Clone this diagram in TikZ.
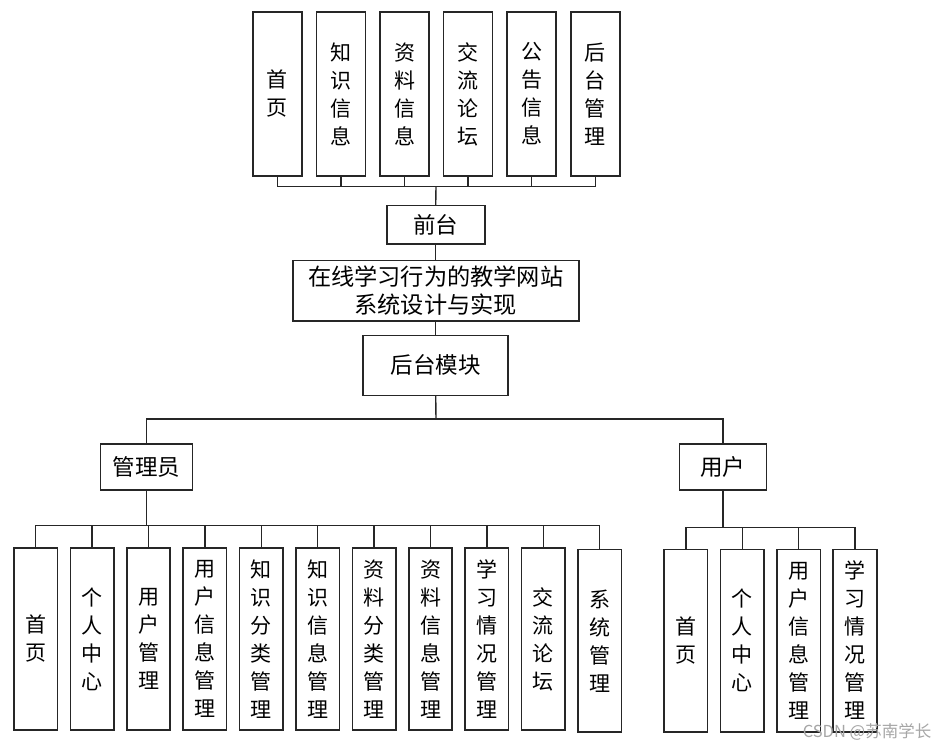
\documentclass[tikz,border=0pt]{standalone}
\usepackage{fontspec}
\newfontfamily\cjk{Noto Sans CJK SC}
\usetikzlibrary{positioning}

\begin{document}
\begin{tikzpicture}[
  x=1pt, y=1pt,
  box/.style={draw=black!85, line width=1.6pt, fill=white, inner sep=2pt, outer sep=0pt, align=center, font=\cjk\fontsize{21}{28}\selectfont},
  flatbox/.style={box, font=\cjk\fontsize{22.5}{28}\selectfont},
  topbox/.style={box, minimum width=49pt, minimum height=164pt},
  leafbox/.style={box, minimum width=43.5pt, minimum height=182.4pt},
  line/.style={draw=black!85, line width=1.4pt}
]
\useasboundingbox (0,0) rectangle (952,748);

% front end
\node[topbox] (t1) at (277.3,654) {首\\页};
\node[topbox, right=14.6pt of t1] (t2) {知\\识\\信\\息};
\node[topbox, right=14.6pt of t2] (t3) {资\\料\\信\\息};
\node[topbox, right=14.6pt of t3] (t4) {交\\流\\论\\坛};
\node[topbox, right=14.6pt of t4] (t5) {公\\告\\信\\息};
\node[topbox, right=14.6pt of t5] (t6) {后\\台\\管\\理};
\coordinate (tbus) at (436,561.3);

\node[flatbox, minimum width=98pt, minimum height=38.6pt] (front) at (435.7,523) {前台};
\node[flatbox, font=\cjk\fontsize{23.2}{28}\selectfont, minimum width=286pt, minimum height=60pt, below=16.4pt of front] (title) {在线学习行为的教学网站\\系统设计与实现};
\node[flatbox, minimum width=145pt, minimum height=60pt, below=14.7pt of title] (back) {后台模块};
\coordinate (mbus) at (436,329);

% roles
\node[flatbox, minimum width=92pt, minimum height=46pt] (admin) at (146.5,281) {管理员};
\node[flatbox, minimum width=87pt, minimum height=46pt] (user) at (722.8,281) {用户};
\coordinate (abus) at (146.5,222.7);
\coordinate (ubus) at (722.8,220.7);

% admin functions
\node[leafbox] (a1) at (35.7,109) {首\\页};
\node[leafbox, right=12.9pt of a1] (a2) {个\\人\\中\\心};
\node[leafbox, right=12.9pt of a2] (a3) {用\\户\\管\\理};
\node[leafbox, right=12.9pt of a3] (a4) {用\\户\\信\\息\\管\\理};
\node[leafbox, right=12.9pt of a4] (a5) {知\\识\\分\\类\\管\\理};
\node[leafbox, right=12.9pt of a5] (a6) {知\\识\\信\\息\\管\\理};
\node[leafbox, right=12.9pt of a6] (a7) {资\\料\\分\\类\\管\\理};
\node[leafbox, right=12.9pt of a7] (a8) {资\\料\\信\\息\\管\\理};
\node[leafbox, right=12.9pt of a8] (a9) {学\\习\\情\\况\\管\\理};
\node[leafbox, right=12.9pt of a9] (a10) {交\\流\\论\\坛};
\node[leafbox, right=12.9pt of a10, yshift=-1.8pt] (a11) {系\\统\\管\\理};

% user functions
\node[leafbox] (u1) at (685.8,107.5) {首\\页};
\node[leafbox, right=12.9pt of u1] (u2) {个\\人\\中\\心};
\node[leafbox, right=12.9pt of u2] (u3) {用\\户\\信\\息\\管\\理};
\node[leafbox, right=12.9pt of u3] (u4) {学\\习\\情\\况\\管\\理};

% connectors
\draw[line] (t1.south) |- (tbus) (t2.south) |- (tbus) (t3.south) |- (tbus)
  (t4.south) |- (tbus) (t5.south) |- (tbus) (t6.south) |- (tbus);
\draw[line] (tbus) -- (front.north);
\draw[line] (front.south) -- (title.north);
\draw[line] (title.south) -- (back.north);
\draw[line] (back.south) -- (mbus);
\draw[line] (admin.north) |- (mbus) (user.north) |- (mbus);
\draw[line] (admin.south) -- (abus);
\draw[line] (a1.north) |- (abus) (a2.north) |- (abus) (a3.north) |- (abus)
  (a4.north) |- (abus) (a5.north) |- (abus) (a6.north) |- (abus)
  (a7.north) |- (abus) (a8.north) |- (abus) (a9.north) |- (abus)
  (a10.north) |- (abus) (a11.north) |- (abus);
\draw[line] (user.south) -- (ubus);
\draw[line] (u1.north) |- (ubus) (u2.north) |- (ubus) (u3.north) |- (ubus) (u4.north) |- (ubus);

% watermark
\node[font=\cjk\fontsize{16.5}{18}\selectfont, text=gray!70, inner sep=0pt] (mark) at (867,16.5) {CSDN @苏南学长};
\end{tikzpicture}
\end{document}
